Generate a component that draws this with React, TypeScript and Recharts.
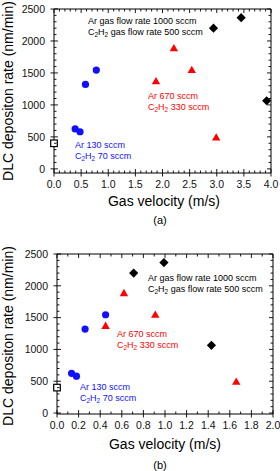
import React from 'react';
import { ScatterChart, Scatter, XAxis, YAxis } from 'recharts';

const FONT = '"Liberation Sans", Arial, Helvetica, sans-serif';
const BLUE = '#1010ff';
const RED = '#ff0000';
const BLACK = '#000000';

// ---- Panel (a): data ----
const velA_Ar130 = [0.39, 0.48, 0.58, 0.78];
const velA_Ar670 = [1.88, 2.21, 2.54, 2.99];
const velA_Ar1000 = [2.94, 3.45, 3.92];
const velA_ref = [0];

// ---- Panel (b): data ----
const velB_Ar130 = [0.135, 0.18, 0.26, 0.45];
const velB_Ar670 = [0.45, 0.62, 0.91, 1.66];
const velB_Ar1000 = [0.71, 0.99, 1.43];
const velB_ref = [0];

// deposition rates (nm/min), shared by both panels
const rate_Ar130 = [625, 580, 1320, 1545];
const rate_Ar670 = [1370, 1885, 1545, 490];
const rate_Ar1000 = [2200, 2365, 1065];
const rate_ref = [400];

// ticks
const xMajorA = [0, 0.5, 1, 1.5, 2, 2.5, 3, 3.5, 4];
const xMajorB = [0, 0.2, 0.4, 0.6, 0.8, 1, 1.2, 1.4, 1.6, 1.8, 2];
const yMajor = [0, 500, 1000, 1500, 2000, 2500];

const steps = (from: number, to: number, step: number) => {
  const out: number[] = [];
  const n = Math.round((to - from) / step);
  for (let i = 0; i <= n; i++) out.push(+(from + i * step).toFixed(4));
  return out;
};
const xTicksA = steps(0, 4, 0.1);
const xTicksB = steps(0, 2, 0.1);
const yTicks = steps(0, 2500, 100);

const zip = (xs: number[], ys: number[]) => xs.map((x, i) => ({ x, y: ys[i] }));

const isMajor = (v: number, majors: number[]) => majors.some((m) => Math.abs(m - v) < 1e-6);

type Orient = 'left' | 'right' | 'top' | 'bottom';

const makeTick = (orient: Orient, majors: number[], fmt?: (v: number) => string) => (props: any) => {
  const { x, y, payload } = props;
  const v = payload.value as number;
  const major = isMajor(v, majors);
  const inLen = major ? 4 : 2.5;
  const outLen = major ? 3.5 : 0;
  let line: React.ReactNode = null;
  let label: React.ReactNode = null;
  if (orient === 'left') {
    line = <line x1={x - outLen} y1={y} x2={x + inLen} y2={y} stroke="#000" strokeWidth={0.9} />;
    if (major && fmt)
      label = (
        <text x={x - 9} y={y + 3.8} textAnchor="end" fontSize={10.5} fontFamily={FONT} fill="#111">
          {fmt(v)}
        </text>
      );
  } else if (orient === 'bottom') {
    line = <line x1={x} y1={y + outLen} x2={x} y2={y - inLen} stroke="#000" strokeWidth={0.9} />;
    if (major && fmt)
      label = (
        <text x={x} y={y + 15} textAnchor="middle" fontSize={10.5} fontFamily={FONT} fill="#111">
          {fmt(v)}
        </text>
      );
  } else if (orient === 'top') {
    line = <line x1={x} y1={y} x2={x} y2={y + inLen} stroke="#000" strokeWidth={0.9} />;
  } else {
    line = <line x1={x} y1={y} x2={x - inLen} y2={y} stroke="#000" strokeWidth={0.9} />;
  }
  return (
    <g>
      {line}
      {label}
    </g>
  );
};

const Circle = (p: any) => <circle cx={p.cx} cy={p.cy} r={3.6} fill={BLUE} />;
const Triangle = (p: any) => (
  <polygon points={`${p.cx},${p.cy - 4.3} ${p.cx - 4.2},${p.cy + 3} ${p.cx + 4.2},${p.cy + 3}`} fill={RED} />
);
const Diamond = (p: any) => (
  <polygon points={`${p.cx},${p.cy - 4.6} ${p.cx + 4.6},${p.cy} ${p.cx},${p.cy + 4.6} ${p.cx - 4.6},${p.cy}`} fill={BLACK} />
);
const Square = (p: any) => (
  <rect x={p.cx - 3.3} y={p.cy - 3.3} width={6.6} height={6.6} fill="#fff" stroke="#000" strokeWidth={1.2} />
);

type PanelProps = {
  height: number;
  margin: { top: number; right: number; bottom: number; left: number };
  yWidth: number;
  xDomain: [number, number];
  yDomain: [number, number];
  xTicks: number[];
  xMajor: number[];
  fmtX: (v: number) => string;
  ar130: { x: number; y: number }[];
  ar670: { x: number; y: number }[];
  ar1000: { x: number; y: number }[];
  ref: { x: number; y: number }[];
};

const Panel = (p: PanelProps) => (
  <ScatterChart width={280} height={p.height} margin={p.margin}>
    <XAxis
      xAxisId="b"
      orientation="bottom"
      type="number"
      dataKey="x"
      domain={p.xDomain}
      ticks={p.xTicks}
      interval={0}
      height={20}
      tickSize={0}
      tickMargin={0}
      tickLine={false}
      axisLine={{ stroke: '#000', strokeWidth: 1 }}
      tick={makeTick('bottom', p.xMajor, p.fmtX)}
    />
    <XAxis
      xAxisId="t"
      orientation="top"
      type="number"
      dataKey="x"
      domain={p.xDomain}
      ticks={p.xTicks}
      interval={0}
      height={1}
      tickSize={0}
      tickMargin={0}
      tickLine={false}
      axisLine={{ stroke: '#000', strokeWidth: 1 }}
      tick={makeTick('top', p.xMajor)}
    />
    <YAxis
      yAxisId="l"
      orientation="left"
      type="number"
      dataKey="y"
      domain={p.yDomain}
      ticks={yTicks}
      interval={0}
      width={p.yWidth}
      tickSize={0}
      tickMargin={0}
      tickLine={false}
      axisLine={{ stroke: '#000', strokeWidth: 1 }}
      tick={makeTick('left', yMajor, (v) => String(v))}
    />
    <YAxis
      yAxisId="r"
      orientation="right"
      type="number"
      dataKey="y"
      domain={p.yDomain}
      ticks={yTicks}
      interval={0}
      width={1}
      tickSize={0}
      tickMargin={0}
      tickLine={false}
      axisLine={{ stroke: '#000', strokeWidth: 1 }}
      tick={makeTick('right', yMajor)}
    />
    <Scatter xAxisId="b" yAxisId="l" data={p.ar130} shape={Circle} isAnimationActive={false} />
    <Scatter xAxisId="b" yAxisId="l" data={p.ar670} shape={Triangle} isAnimationActive={false} />
    <Scatter xAxisId="t" yAxisId="r" data={p.ar1000} shape={Diamond} isAnimationActive={false} />
    <Scatter xAxisId="t" yAxisId="r" data={p.ref} shape={Square} isAnimationActive={false} />
  </ScatterChart>
);

const C2H2 = ({ rest, fs }: { rest: string; fs: number }) => (
  <>
    C<tspan fontSize={fs * 0.72} dy={2}>2</tspan>
    <tspan dy={-2}>H</tspan>
    <tspan fontSize={fs * 0.72} dy={2}>2</tspan>
    <tspan dy={-2}>{rest}</tspan>
  </>
);

const Note = ({ x, y, color, l1, l2 }: { x: number; y: number; color: string; l1: string; l2: string }) => (
  <g fill={color} fontFamily={FONT} fontSize={9}>
    <text x={x} y={y}>{l1}</text>
    <text x={x} y={y + 11}>
      <C2H2 rest={l2} fs={9} />
    </text>
  </g>
);

export default function App() {
  return (
    <div style={{ position: 'absolute', left: 0, top: 0, width: 280, height: 471, background: '#fff', overflow: 'hidden' }}>
      <div style={{ position: 'absolute', left: 0, top: 0 }}>
        <Panel
          height={235}
          margin={{ top: 8, right: 8, bottom: 42, left: 0 }}
          yWidth={54}
          xDomain={[0, 4]}
          yDomain={[-65, 2500]}
          xTicks={xTicksA}
          xMajor={xMajorA}
          fmtX={(v) => v.toFixed(1)}
          ar130={zip(velA_Ar130, rate_Ar130)}
          ar670={zip(velA_Ar670, rate_Ar670)}
          ar1000={zip(velA_Ar1000, rate_Ar1000)}
          ref={zip(velA_ref, rate_ref)}
        />
      </div>
      <div style={{ position: 'absolute', left: 0, top: 235 }}>
        <Panel
          height={236}
          margin={{ top: 18, right: 6, bottom: 37, left: 0 }}
          yWidth={57}
          xDomain={[0, 2]}
          yDomain={[-15, 2500]}
          xTicks={xTicksB}
          xMajor={xMajorB}
          fmtX={(v) => v.toFixed(1)}
          ar130={zip(velB_Ar130, rate_Ar130)}
          ar670={zip(velB_Ar670, rate_Ar670)}
          ar1000={zip(velB_Ar1000, rate_Ar1000)}
          ref={zip(velB_ref, rate_ref)}
        />
      </div>
      <svg
        width={280}
        height={471}
        style={{ position: 'absolute', left: 0, top: 0, pointerEvents: 'none' }}
      >
        {/* Panel (a) labels */}
        <text x={8} y={91} transform="rotate(-90 8 91)" textAnchor="middle" dominantBaseline="central" fontFamily={FONT} fontSize={14} fill="#000">
          DLC depositon rate (nm/min)
        </text>
        <text x={164} y={206} textAnchor="middle" fontFamily={FONT} fontSize={14} fill="#000">
          Gas velocity (m/s)
        </text>
        <text x={160} y={224} textAnchor="middle" fontFamily={FONT} fontSize={11} fill="#000">
          (a)
        </text>
        <Note x={88} y={24} color={BLACK} l1="Ar gas flow rate 1000 sccm" l2=" gas flow rate 500 sccm" />
        <Note x={148} y={99} color={RED} l1="Ar 670 sccm" l2=" 330 sccm" />
        <Note x={75} y={147.5} color={BLUE} l1="Ar 130 sccm" l2=" 70 sccm" />

        {/* Panel (b) labels */}
        <text x={8} y={336} transform="rotate(-90 8 336)" textAnchor="middle" dominantBaseline="central" fontFamily={FONT} fontSize={14} fill="#000">
          DLC depositon rate (nm/min)
        </text>
        <text x={165} y={449} textAnchor="middle" fontFamily={FONT} fontSize={14} fill="#000">
          Gas velocity (m/s)
        </text>
        <text x={160} y={469} textAnchor="middle" fontFamily={FONT} fontSize={11} fill="#000">
          (b)
        </text>
        <Note x={148} y={281} color={BLACK} l1="Ar gas flow rate 1000 sccm" l2=" gas flow rate 500 sccm" />
        <Note x={117} y={336.5} color={RED} l1="Ar 670 sccm" l2=" 330 sccm" />
        <Note x={80} y={389.5} color={BLUE} l1="Ar 130 sccm" l2=" 70 sccm" />
      </svg>
    </div>
  );
}
